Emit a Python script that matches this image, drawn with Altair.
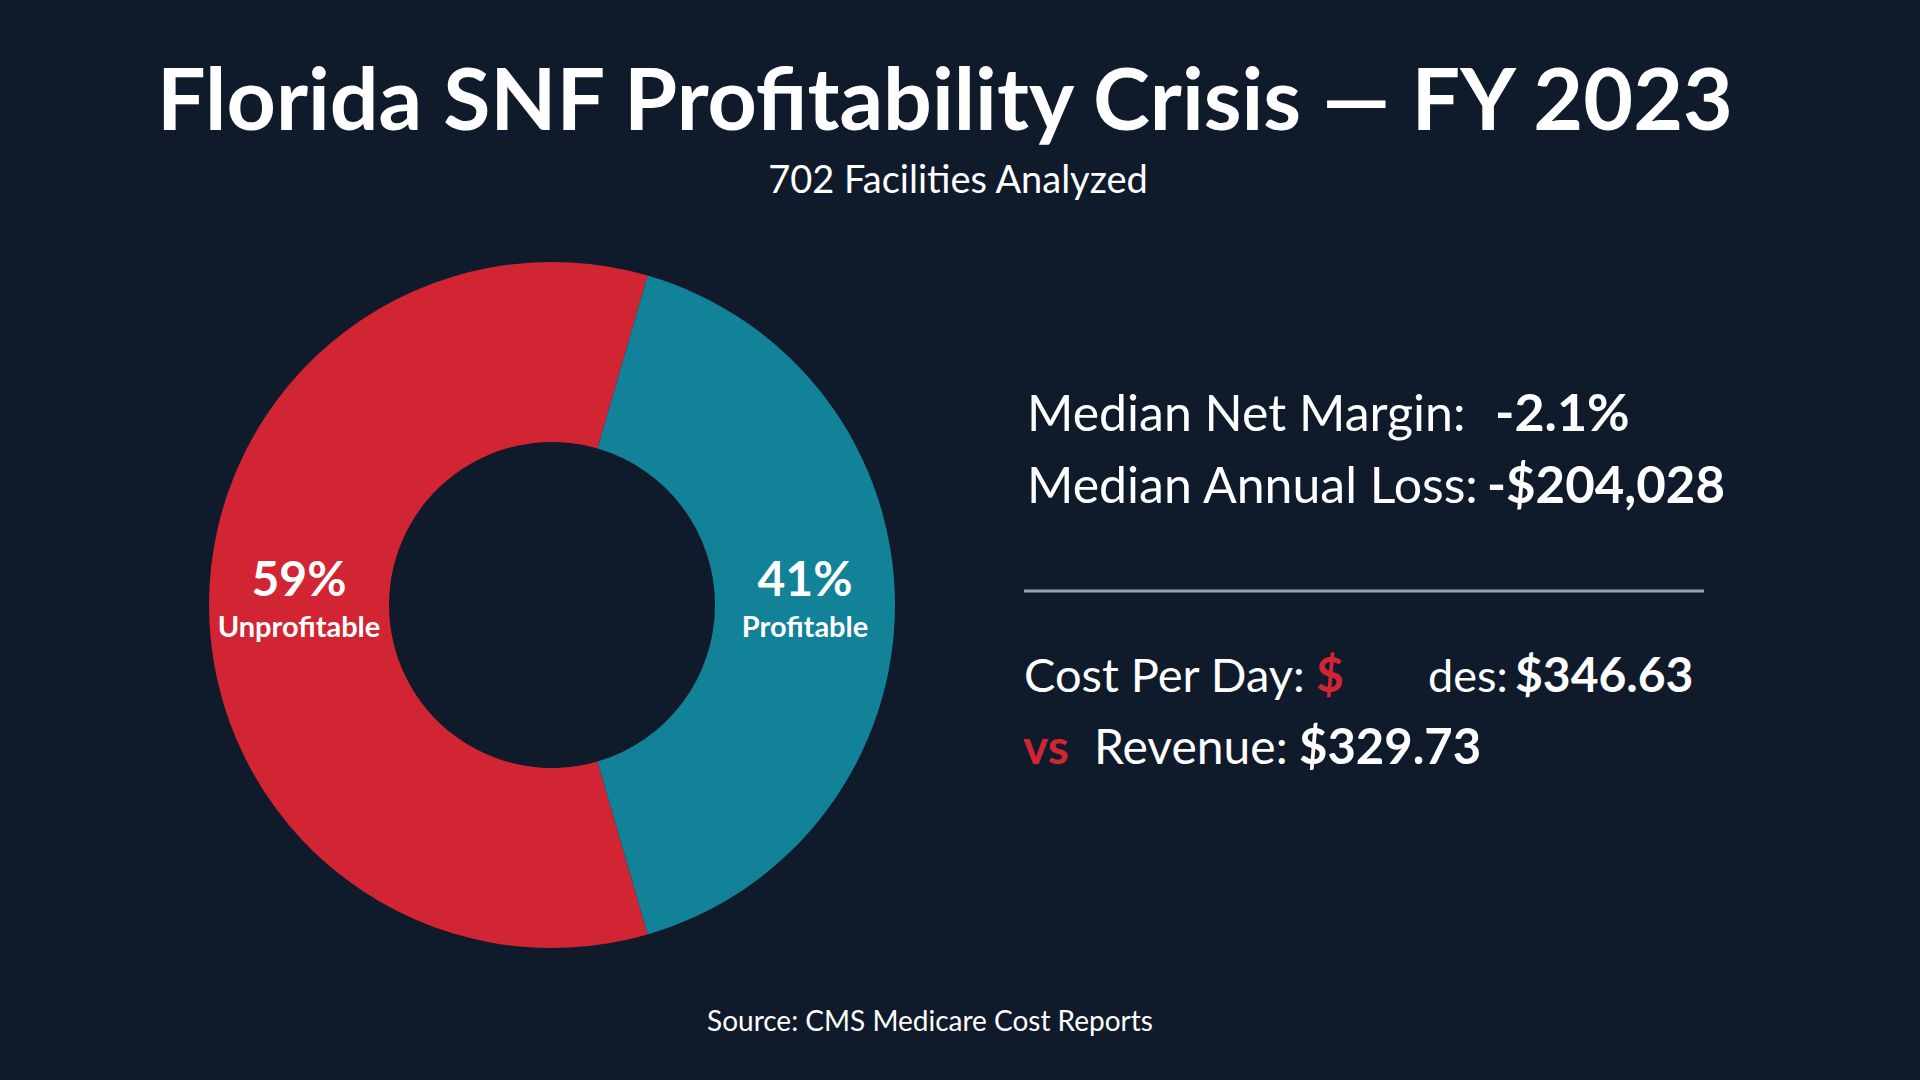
import math
import altair as alt
import pandas as pd

# ---- data ----
segments = ["Unprofitable", "Profitable"]
shares = [59, 41]
seg_colors = ["#d22534", "#128298"]

title_text = ["Florida SNF Profitability Crisis — FY 2023"]
subtitle_text = ["702 Facilities Analyzed"]
source_text = ["Source: CMS Medicare Cost Reports"]

stat_labels = ["Median Net Margin:", "Median Annual Loss:"]
stat_values = ["-2.1%", "-$204,028"]
cost_labels = ["Cost Per Day:", "$", "des:"]
cost_value = ["$346.63"]
rev_labels = ["vs", "Revenue:"]
rev_value = ["$329.73"]

BG = "#0f1a2b"
FONT = "Lato"

df = pd.DataFrame({
    "segment": segments,
    "share": shares,
    "order": list(range(len(segments))),
    "pct": [f"{s}%" for s in shares],
})

# rotate so the first slice is centred on the left side
start = math.radians(270 - shares[0] * 3.6 / 2)
theta_scale = alt.Scale(domain=[0, sum(shares)], range=[start, start + 2 * math.pi])

CX, CY = 552, 605
base = alt.Chart(df).encode(
    theta=alt.Theta("share:Q", stack=True, scale=theta_scale),
    order=alt.Order("order:Q"),
    detail="segment:N",
    x=alt.value(CX),
    y=alt.value(CY),
)

arc = base.mark_arc(innerRadius=163, outerRadius=343).encode(
    color=alt.Color("segment:N", scale=alt.Scale(domain=segments, range=seg_colors), legend=None)
)
pct_text = base.mark_text(radius=253, font=FONT, fontSize=48, fontWeight="bold",
                          color="white", baseline="alphabetic", dy=-9).encode(text="pct:N")
name_text = base.mark_text(radius=253, font=FONT, fontSize=29, fontWeight="bold",
                           color="white", baseline="alphabetic", dy=32).encode(text="segment:N")


def txt(s, x, y, size, weight="normal", color="white", align="left"):
    return alt.Chart(pd.DataFrame({"t": [s]})).mark_text(
        font=FONT, fontSize=size, fontWeight=weight, color=color,
        align=align, baseline="alphabetic"
    ).encode(text="t:N", x=alt.value(x), y=alt.value(y))


layers = [
    arc, pct_text, name_text,
    txt(title_text[0], 945, 130, 86, "bold", align="center"),
    txt(subtitle_text[0], 958, 193, 38, align="center"),
    txt(stat_labels[0], 1027, 431, 50),
    txt(stat_values[0], 1495, 431, 52, "bold"),
    txt(stat_labels[1], 1027, 503, 50),
    txt(stat_values[1], 1487, 503, 51, "bold"),
    alt.Chart(pd.DataFrame({"k": [0]})).mark_rule(color="#9aa3ad", strokeWidth=3).encode(
        x=alt.value(1024), x2=alt.value(1704), y=alt.value(591)),
    txt(cost_labels[0], 1024, 692, 47),
    txt(cost_labels[1], 1316, 692, 48, "bold", color="#d22534"),
    txt(cost_labels[2], 1428, 692, 45),
    txt(cost_value[0], 1515, 692, 48, "bold"),
    txt(rev_labels[0], 1023, 764, 48, "bold", color="#d22534"),
    txt(rev_labels[1], 1094, 764, 48),
    txt(rev_value[0], 1299, 764, 49, "bold"),
    txt(source_text[0], 930, 1031, 28, align="center"),
]

chart = alt.layer(*layers).properties(
    width=1920, height=1080, padding=0,
    autosize=alt.AutoSizeParams(type="none"),
    background=BG,
).configure_view(stroke=None, fill=None)

chart.save("out.html", embed_options={"renderer": "svg", "actions": False})
